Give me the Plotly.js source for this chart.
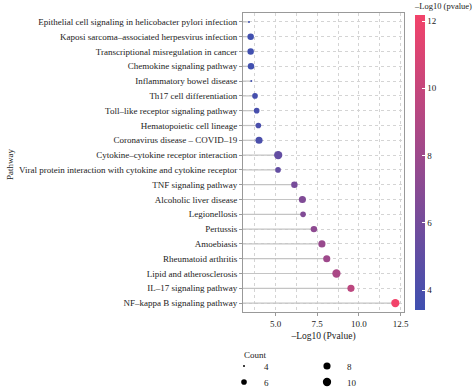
<!DOCTYPE html>
<html>
<head>
<meta charset="utf-8">
<script src="https://cdn.plot.ly/plotly-3.0.1.min.js"></script>
<style>html,body{margin:0;padding:0;background:#fff;}#chart{width:474px;height:389px;}</style>
</head>
<body>
<div id="chart"></div>
<script>
// ---- data ----
var pathways = [
  "Epithelial cell signaling in helicobacter pylori infection",
  "Kaposi sarcoma\u2013associated herpesvirus infection",
  "Transcriptional misregulation in cancer",
  "Chemokine signaling pathway",
  "Inflammatory bowel disease",
  "Th17 cell differentiation",
  "Toll\u2013like receptor signaling pathway",
  "Hematopoietic cell lineage",
  "Coronavirus disease \u2013 COVID\u201319",
  "Cytokine\u2013cytokine receptor interaction",
  "Viral protein interaction with cytokine and cytokine receptor",
  "TNF signaling pathway",
  "Alcoholic liver disease",
  "Legionellosis",
  "Pertussis",
  "Amoebiasis",
  "Rheumatoid arthritis",
  "Lipid and atherosclerosis",
  "IL\u201317 signaling pathway",
  "NF\u2013kappa B signaling pathway"
];
var negLog10P = [3.41, 3.51, 3.51, 3.53, 3.55, 3.77, 3.87, 3.97, 4.01, 5.16,
                 5.15, 6.13, 6.61, 6.65, 7.30, 7.78, 8.07, 8.65, 9.52, 12.18];
var counts = [4, 7, 7, 7, 4, 6, 6, 6, 8, 10, 6, 7, 8, 6, 7, 8, 8, 10, 8, 10];
var countBreaks = [4, 6, 8, 10];
var xTicks = [5.0, 7.5, 10.0, 12.5];
var xTickLabels = ["5.0", "7.5", "10.0", "12.5"];
var cbTicks = [4, 6, 8, 10, 12];

// ---- styling helpers ----
var FONT = "Liberation Serif, Times New Roman, serif";
var W = 474, H = 389;
var ML = 243, MR = 70, MT = 13, MB = 77;
var PW = W - ML - MR, PH = H - MT - MB;
var xLeft = 3.05, xRight = 12.7;
var cMin = 3.41, cMax = 12.18;
var cscale = [[0, "#3F50B0"], [1, "#F2436A"]];
function diam(c) { return 2 + 6.3 * Math.sqrt(Math.max(0, (c - 4) / 6)); }
function cx(x) { return x / W; }          // container fraction from pixel
function cy(y) { return (H - y) / H; }
function pxp(x) { return (x - ML) / PW; } // paper fraction from pixel
function pyp(y) { return (H - MB - y) / PH; }

// segment lines
var segX = [], segY = [];
for (var i = 0; i < pathways.length; i++) {
  segX.push(xLeft, negLog10P[i], null);
  segY.push(pathways[i], pathways[i], null);
}

var traces = [];
traces.push({
  type: "scatter", mode: "lines", x: segX, y: segY,
  line: { color: "#c4c4c4", width: 1.2 }, hoverinfo: "skip", showlegend: false
});
traces.push({
  type: "scatter", mode: "markers", x: negLog10P, y: pathways,
  marker: {
    size: counts.map(diam), color: negLog10P, colorscale: cscale,
    cmin: cMin, cmax: cMax, line: { width: 0 }, opacity: 1,
    showscale: true,
    colorbar: {
      thickness: 10, len: 310, lenmode: "pixels",
      x: pxp(415), xref: "paper", xanchor: "left",
      y: pyp(310), yref: "paper", yanchor: "bottom",
      xpad: 0, ypad: 0,
      outlinewidth: 0,
      tickvals: cbTicks, ticktext: cbTicks.map(String),
      ticks: "inside", ticklen: 3, tickcolor: "#ffffff", tickwidth: 1,
      tickfont: { family: FONT, size: 9, color: "#222" },
      title: { text: "\u2013Log10 (pvalue)", side: "top", font: { family: FONT, size: 8.5, color: "#222" } }
    }
  },
  showlegend: false
});
// Count legend (size): one legend box per key
var legendNames = ["legend", "legend2", "legend3", "legend4"];
countBreaks.forEach(function (c, k) {
  traces.push({
    type: "scatter", mode: "markers", x: [null], y: [null],
    name: String(c), legend: legendNames[k],
    marker: { size: diam(c), color: "#000" }, showlegend: true, hoverinfo: "skip"
  });
});
function legendBox(xpix, ypix) {
  return {
    x: cx(xpix), xref: "container", xanchor: "left",
    y: cy(ypix), yref: "container", yanchor: "middle",
    orientation: "v", bgcolor: "rgba(0,0,0,0)", borderwidth: 0,
    font: { family: FONT, size: 9, color: "#222" },
    itemsizing: "trace", tracegroupgap: 0
  };
}

var layout = {
  width: W, height: H,
  margin: { l: ML, r: MR, t: MT, b: MB, pad: 0, autoexpand: false },
  paper_bgcolor: "#fff", plot_bgcolor: "#fff",
  font: { family: FONT, size: 9, color: "#222" },
  xaxis: {
    range: [xLeft, xRight], tickvals: xTicks, ticktext: xTickLabels,
    ticks: "outside", ticklen: 3, tickcolor: "#999",
    showline: true, mirror: true, linecolor: "#999", linewidth: 1,
    showgrid: true, gridcolor: "#d4d4d4", griddash: "dot", gridwidth: 1,
    minor: { dtick: 1.25, tick0: 5, showgrid: true, gridcolor: "#d4d4d4", griddash: "dot", ticks: "" },
    zeroline: false, automargin: true,
    tickfont: { family: FONT, size: 9, color: "#222" },
    title: { text: "\u2013Log10 (Pvalue)", font: { family: FONT, size: 9.5, color: "#222" }, standoff: 4 }
  },
  yaxis: {
    type: "category", categoryorder: "array", categoryarray: pathways,
    range: [pathways.length - 0.4, -0.6],
    ticks: "outside", ticklen: 3, tickcolor: "#999",
    showline: true, mirror: true, linecolor: "#999", linewidth: 1,
    showgrid: true, gridcolor: "#d4d4d4", griddash: "dot", gridwidth: 1,
    zeroline: false, automargin: false,
    tickfont: { family: FONT, size: 9, color: "#222" }
  },
  legend: legendBox(224, 366),
  legend2: legendBox(224, 382),
  legend3: legendBox(307, 366),
  legend4: legendBox(307, 382),
  annotations: [{
    text: "Count", xref: "paper", yref: "paper", x: pxp(242), y: pyp(355),
    xanchor: "left", yanchor: "middle", showarrow: false,
    font: { family: FONT, size: 9, color: "#222" }
  }, {
    text: "Pathway", xref: "paper", yref: "paper", x: pxp(10), y: pyp(165),
    xanchor: "center", yanchor: "middle", textangle: -90, showarrow: false,
    font: { family: FONT, size: 9, color: "#222" }
  }]
};

Plotly.newPlot("chart", traces, layout, { displayModeBar: false, staticPlot: true });
</script>
</body>
</html>
